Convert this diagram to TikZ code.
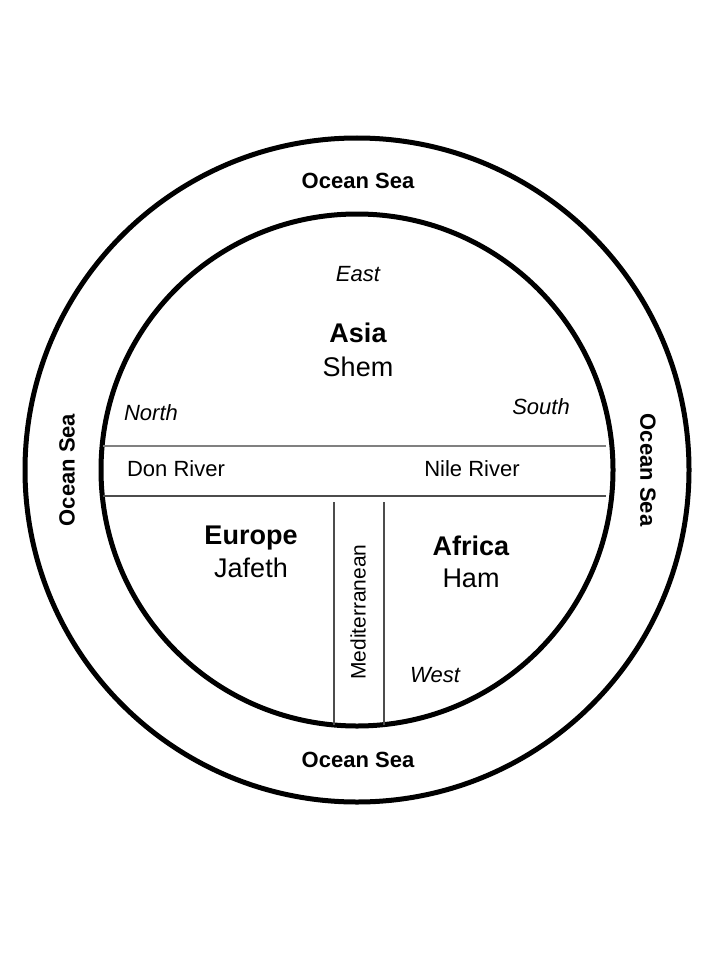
\documentclass[tikz,border=0pt]{standalone}
\usepackage{fontspec}
\setmainfont{Liberation Sans}
\begin{document}
\begin{tikzpicture}[x=1pt,y=-1pt,
  ring/.style={line width=5pt, draw=black},
  riverline/.style={line width=1.6pt},
  strait/.style={line width=1.2pt, draw=black!70},
  ocean/.style={font=\fontsize{22}{26}\selectfont\bfseries, inner sep=0pt},
  land/.style={font=\fontsize{27}{31}\selectfont\bfseries, inner sep=0pt, anchor=base},
  people/.style={font=\fontsize{27}{31}\selectfont, inner sep=0pt, anchor=base},
  compass/.style={font=\fontsize{22}{26}\selectfont\itshape, inner sep=0pt, anchor=base},
  rivername/.style={font=\fontsize{22}{26}\selectfont, inner sep=0pt, anchor=base}
]
\fill[white] (0,0) rectangle (720,960);
\useasboundingbox (0,0) rectangle (720,960);

\coordinate (c) at (357,470);
\draw[ring] (c) circle[radius=332pt];
\draw[ring] (c) circle[radius=256pt];

% rivers (horizontal band)
\coordinate (nw) at (103,446);
\coordinate (ne) at (606,446);
\coordinate (sw) at (103,496);
\coordinate (se) at (606,496);
\draw[riverline, draw=black!50] (nw) -- (ne);
\draw[riverline, draw=black!70] (sw) -- (se);

% Mediterranean (vertical band)
\coordinate (m1t) at (334,502);
\coordinate (m1b) at (334,725);
\coordinate (m2t) at (384,502);
\coordinate (m2b) at (384,725);
\draw[strait] (m1t) -- (m1b);
\draw[strait] (m2t) -- (m2b);

% Ocean Sea labels
\node[ocean, anchor=base] (otop) at (358,189) {Ocean Sea};
\node[ocean, anchor=base] (obot) at (358,767) {Ocean Sea};
\node[ocean, rotate=90] (oleft) at (67,470) {Ocean Sea};
\node[ocean, rotate=-90] (oright) at (648,470) {Ocean Sea};

% Asia
\node[compass] (east) at (358,281) {East};
\node[land] (asia) at (358,342.5) {Asia};
\node[people] (shem) at (358,376) {Shem};
\node[compass] (north) at (151,420.5) {North};
\node[compass] (south) at (541,414.5) {South};

% rivers
\node[rivername] (don) at (176,476.5) {Don River};
\node[rivername] (nile) at (472,476.5) {Nile River};

% Europe
\node[land] (europe) at (251,544) {Europe};
\node[people] (jafeth) at (251,577.5) {Jafeth};

% Africa
\node[land] (africa) at (471,555.5) {Africa};
\node[people] (ham) at (471,587.5) {Ham};
\node[compass] (west) at (435,682) {West};

% Mediterranean
\node[font=\fontsize{21}{25}\selectfont, inner sep=0pt, rotate=90] (med) at (358,612) {Mediterranean};
\end{tikzpicture}
\end{document}
